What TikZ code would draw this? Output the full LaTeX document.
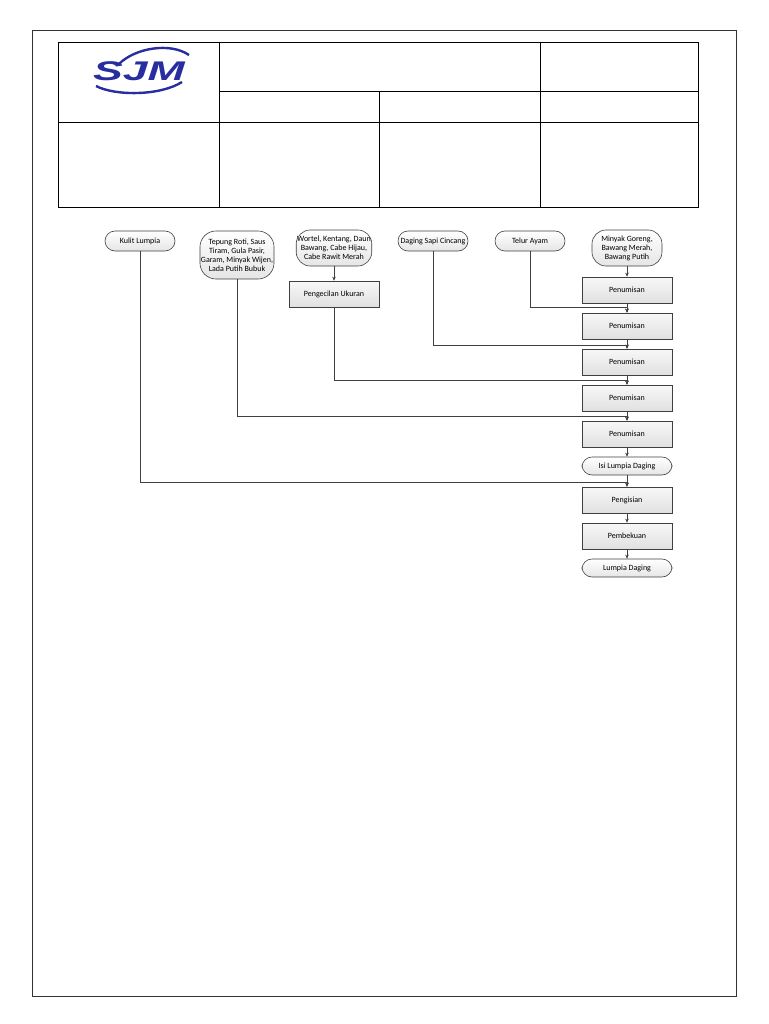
\documentclass[tikz,border=0pt]{standalone}
\usepackage{fontspec}
\setmainfont{Carlito}
\newfontfamily\logofont{Liberation Sans}
\usetikzlibrary{arrows.meta}
\definecolor{logoblue}{RGB}{40,45,160}
\begin{document}
\begin{tikzpicture}[x=1pt,y=-1pt,
 base/.style={draw=black!75,line width=0.6pt,align=center,font=\fontsize{8}{9}\selectfont,inner sep=1pt,top color=white,bottom color=black!10},
 term/.style={base,rounded corners=10pt,minimum width=70pt,minimum height=20pt},
 proc/.style={base,minimum width=90pt,minimum height=26pt,top color=black!3,bottom color=black!12},
 arr/.style={-{Stealth[length=4pt,width=3.5pt]},draw=black!75,line width=0.6pt},
 ln/.style={draw=black!75,line width=0.6pt}]
\useasboundingbox (0,0) rectangle (768,1024);
\draw[line width=0.8pt,black!80] (32,30) rectangle (736,996);
% table
\draw[line width=1pt] (58,43) rectangle (698,208);
\draw[line width=1pt] (58,123) -- (698,123);
\draw[line width=1pt] (219,43) -- (219,208);
\draw[line width=1pt] (540,43) -- (540,208);
\draw[line width=1pt] (219,92) -- (698,92);
\draw[line width=1pt] (379,92) -- (379,208);
% logo
\node[logoblue,font=\logofont\bfseries\itshape\fontsize{27}{27}\selectfont,inner sep=0pt,xscale=1.65] (logo) at (139,71) {SJM};
\draw[logoblue,line width=2.4pt] (119,64) .. controls (135,48) and (170,42) .. (189,55);
\draw[logoblue,line width=2.4pt] (96,86) .. controls (115,96) and (160,96) .. (182,82);
% inputs
\node[term] (kulit) at (140,241) {Kulit Lumpia};
\node[term,minimum width=68pt,minimum height=48pt,rounded corners=16pt] (tepung) at (237,255) {Tepung Roti, Saus\\Tiram, Gula Pasir,\\Garam, Minyak Wijen,\\Lada Putih Bubuk};
\node[term,minimum height=36pt,rounded corners=14pt] (wortel) at (334,248) {Wortel, Kentang, Daun\\Bawang, Cabe Hijau,\\Cabe Rawit Merah};
\node[term] (daging) at (433,241) {Daging Sapi Cincang};
\node[term] (telur) at (530,241) {Telur Ayam};
\node[term,minimum height=36pt,rounded corners=14pt] (minyak) at (627,248) {Minyak Goreng,\\Bawang Merah,\\Bawang Putih};
\node[proc] (peng) at (334,294) {Pengecilan Ukuran};
\node[proc] (p1) at (627,290) {Penumisan};
\node[proc] (p2) at (627,326) {Penumisan};
\node[proc] (p3) at (627,362) {Penumisan};
\node[proc] (p4) at (627,398) {Penumisan};
\node[proc] (p5) at (627,434) {Penumisan};
\node[term,minimum width=90pt,minimum height=18pt] (isi) at (627,466) {Isi Lumpia Daging};
\node[proc] (pengisian) at (627,500) {Pengisian};
\node[proc] (beku) at (627,536) {Pembekuan};
\node[term,minimum width=90pt,minimum height=18pt] (hasil) at (627,568) {Lumpia Daging};
% arrows
\draw[arr] (minyak) -- (p1);
\draw[arr] (p1) -- (p2);
\draw[arr] (p2) -- (p3);
\draw[arr] (p3) -- (p4);
\draw[arr] (p4) -- (p5);
\draw[arr] (p5) -- (isi);
\draw[arr] (isi) -- (pengisian);
\draw[arr] (pengisian) -- (beku);
\draw[arr] (beku) -- (hasil);
\draw[arr] (wortel) -- (peng);
\draw[arr] (telur.south) |- (627,307) -- (p2.north);
\draw[arr] (daging.south) |- (627,345) -- (p3.north);
\draw[arr] (peng.south) |- (627,380) -- (p4.north);
\draw[arr] (tepung.south) |- (627,416) -- (p5.north);
\draw[arr] (kulit.south) |- (627,482) -- (pengisian.north);
\end{tikzpicture}
\end{document}
